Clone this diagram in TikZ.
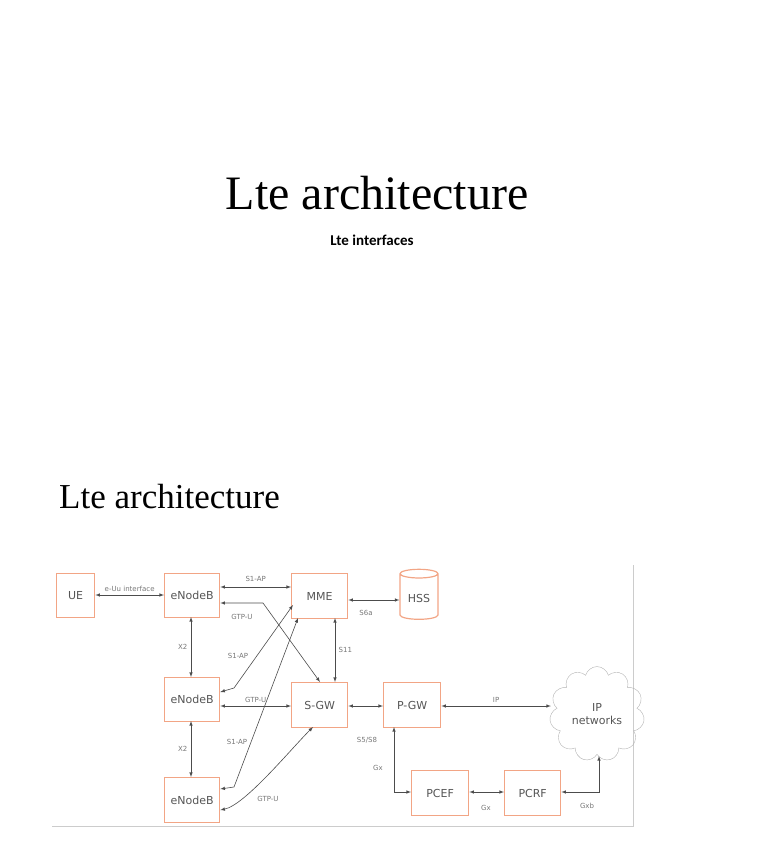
\documentclass[tikz,border=0pt]{standalone}
\usepackage{fontspec}
\setmainfont{Liberation Serif}
\newfontfamily\carl{Carlito}
\newfontfamily\dv{DejaVu Sans}
\usetikzlibrary{shapes.geometric,shapes.symbols}
\definecolor{boxc}{HTML}{F2A585}
\definecolor{txc}{HTML}{555555}
\begin{document}
\begin{tikzpicture}[x=1pt,y=-1pt,
  box/.style={draw=boxc,line width=1.3pt,inner sep=0,anchor=north west,font=\dv\fontsize{11}{13}\selectfont,text=txc},
  lab/.style={font=\dv\fontsize{7}{8}\selectfont,text=txc!80},
  ar/.style={<->,>=latex,draw=black!70,line width=0.6pt}]
\useasboundingbox (0,0) rectangle (768,866);
\node (t1) at (377,193) {\fontsize{48}{52}\selectfont Lte architecture};
\node (t2) at (372,240) {\carl\bfseries\fontsize{15}{17}\selectfont Lte interfaces};
\node[anchor=west,inner sep=0] (t3) at (59,497) {\fontsize{35}{38}\selectfont Lte architecture};
\draw[black!20,line width=1pt] (52,826) -- (633,826) -- (633,565);
\node[box,minimum width=38,minimum height=44] (ue) at (56,573) {UE};
\node[box,minimum width=55,minimum height=44] (e1) at (164,573) {eNodeB};
\node[box,minimum width=56,minimum height=45] (mme) at (291,573) {MME};
\node[draw=boxc,line width=1.2pt,cylinder,shape border rotate=90,aspect=0.3,minimum width=38,minimum height=50,font=\dv\fontsize{11}{13}\selectfont,text=txc] (hss) at (419,598) {HSS};
\node[box,minimum width=55,minimum height=44] (e2) at (164,677) {eNodeB};
\node[box,minimum width=56,minimum height=45] (sgw) at (291,682) {S-GW};
\node[box,minimum width=57,minimum height=45] (pgw) at (383,682) {P-GW};
\node[box,minimum width=55,minimum height=45] (e3) at (164,777) {eNodeB};
\node[box,minimum width=57,minimum height=45] (pcef) at (411,770) {PCEF};
\node[box,minimum width=56,minimum height=45] (pcrf) at (504,770) {PCRF};
\node[cloud,draw=black!30,cloud puffs=11,minimum width=84,minimum height=88,align=center,font=\dv\fontsize{11}{13}\selectfont,text=txc] (ip) at (597,714) {IP\\networks};
\coordinate (c1) at (263,603);
\coordinate (c2) at (234,688);
\coordinate (c3) at (234,787);
\coordinate (c4) at (394,792);
\coordinate (c5) at (599,792);
% connectors
\draw[ar] (ue.east|-0,595) -- node[lab,above]{e-Uu interface} (e1.west|-0,595);
\draw[ar] (e1.east|-0,587) -- node[lab,above,yshift=2]{S1-AP} (mme.west|-0,587);
\draw[ar] (e1.east|-0,603) -- (c1) -- (320,682);
\node[lab] (g1) at (242,617) {GTP-U};
\draw[ar] (mme.east|-0,600) -- (hss.west|-0,600);
\node[lab] (s6) at (366,613) {S6a};
\draw[ar] (335,618) -- node[lab,right]{S11} (335,682);
\draw[ar] (191,617) -- node[lab,left]{X2} (191,677);
\draw[ar] (191,721) -- node[lab,left]{X2} (191,777);
\draw[ar] (e2.east|-0,692) -- (c2) -- (293,605);
\node[lab] (s1b) at (238,656) {S1-AP};
\draw[ar] (e2.east|-0,706) -- node[lab,above]{GTP-U} (sgw.west|-0,706);
\draw[ar] (e3.east|-0,789) -- (c3) -- (298,618);
\node[lab] (s1c) at (237,742) {S1-AP};
\draw[ar] (e3.east|-0,810) .. controls (245,805) and (290,750) .. (313,727);
\node[lab] (g3) at (268,799) {GTP-U};
\draw[ar] (sgw.east|-0,706) -- (pgw.west|-0,706);
\node[lab] (s5) at (367,740) {S5/S8};
\draw[ar] (pgw.east|-0,706) -- node[lab,above]{IP} (ip.west|-0,706);
\draw[ar] (394,727) -- (c4) -- (pcef.west|-0,792);
\node[lab] (gx1) at (378,768) {Gx};
\draw[ar] (pcef.east|-0,792) -- (pcrf.west|-0,792);
\node[lab] (gx2) at (486,808) {Gx};
\draw[ar] (pcrf.east|-0,792) -- (c5) -- (599,756);
\node[lab] (gxb) at (587,806) {Gxb};
\end{tikzpicture}
\end{document}
